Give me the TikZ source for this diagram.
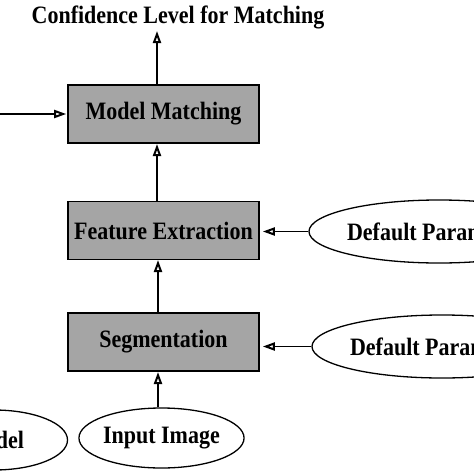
\documentclass[tikz,border=0pt]{standalone}
\usepackage{fontspec}
\setmainfont{Liberation Serif}[FakeStretch=0.88]
\usetikzlibrary{arrows.meta,shapes.geometric}
\definecolor{boxgray}{RGB}{165,165,165}
\begin{document}
\begin{tikzpicture}[x=1pt,y=-1pt,
  font=\fontsize{25}{27}\selectfont\bfseries,
  stagebox/.style={draw=black,line width=1.6pt,fill=boxgray,minimum width=191pt,minimum height=58pt,inner sep=0pt},
  dataell/.style={draw=black,line width=1.3pt,ellipse,inner sep=0pt},
  flow/.style={line width=1.5pt,-{Triangle[open,length=12pt,width=8pt,line width=2pt]}}]
\useasboundingbox (0,0) rectangle (474,474);
\clip (0,0) rectangle (474,474);
\node (conf) at (178,17) {Confidence Level for Matching};
\node[stagebox] (mm) at (163.5,114) {Model Matching};
\node[stagebox] (fe) at (163.5,230.5) {Feature Extraction};
\node[stagebox] (seg) at (163.5,342) {Segmentation};
\node[dataell,minimum width=147pt,minimum height=60pt] (img) at (161.5,438) {Input Image};
\node[dataell,minimum width=147pt,minimum height=60pt] (model) at (-6,440) {Model};
\node[dataell,minimum width=228pt,minimum height=63pt] (par1) at (439,231.5) {Default Parameters};
\node[dataell,minimum width=228pt,minimum height=63pt] (par2) at (442,346.5) {Default Parameters};
\coordinate (confbot) at (157,31);
\draw[flow] (157,85) -- (confbot);
\draw[flow] (fe.north -| 157,0) -- (157,144);
\draw[flow] (seg.north -| 158,0) -- (158,260);
\draw[flow] (img.north -| 158,0) -- (158,372);
\draw[flow] (par1.west) -- ([xshift=3pt]par1.west -| fe.east);
\draw[flow] (par2.west) -- ([xshift=3pt]par2.west -| seg.east);
\draw[flow] (model.north) |- ([xshift=-1pt]mm.west);
\end{tikzpicture}
\end{document}
